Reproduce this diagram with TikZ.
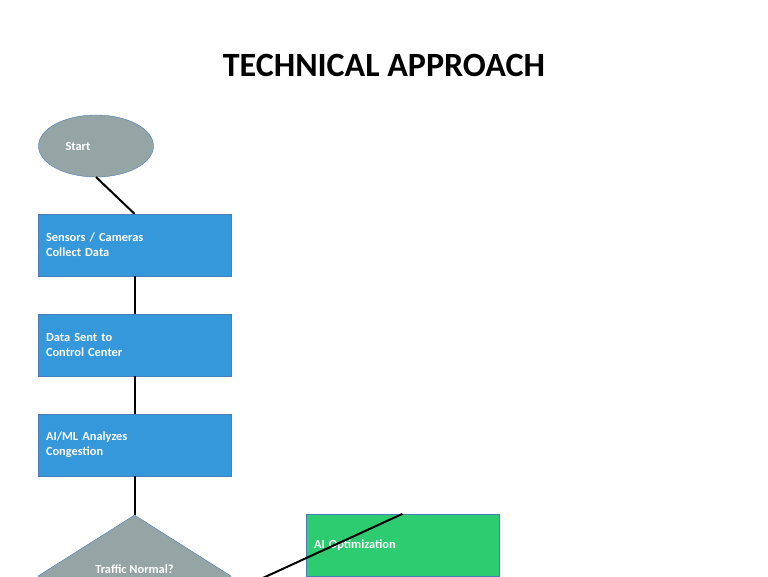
\documentclass[tikz,border=0pt]{standalone}
\usepackage{fontspec}
\setmainfont{Carlito}
\usetikzlibrary{shapes.geometric}
\definecolor{gr}{HTML}{95A5A6}
\definecolor{bl}{HTML}{3498DB}
\definecolor{gn}{HTML}{2ECC71}
\definecolor{ed}{HTML}{4A7EBB}
\begin{document}
\begin{tikzpicture}[x=1pt,y=-1pt,
 txt/.style={text=white,font=\bfseries\fontsize{12.4}{15}\selectfont},
 box/.style={draw=ed,fill=bl,minimum width=193pt,minimum height=62pt,text width=177pt,align=left,txt,inner sep=0pt},
 con/.style={line width=2pt,black}]
\clip (0,0) rectangle (768,576);
\useasboundingbox (0,0) rectangle (768,576);
\node[font=\bfseries\fontsize{34}{38}\selectfont] (t) at (384,65) {TECHNICAL APPROACH};
\node[ellipse,draw=ed,fill=gr,minimum width=115pt,minimum height=62pt,inner sep=0pt] (s) at (96,146) {};
\node[txt,anchor=west] (st) at (62,146) {Start};
\node[box] (b1) at (134.5,245) {Sensors / Cameras\\Collect Data};
\node[box] (b2) at (134.5,345) {Data Sent to\\Control Center};
\node[box] (b3) at (134.5,445) {AI/ML Analyzes\\Congestion};
\node[diamond,draw=ed,fill=gr,minimum width=193pt,minimum height=122pt,inner sep=0pt,aspect=1.58] (d) at (134.5,576) {};
\node[txt] (dt) at (134.5,569) {Traffic Normal?};
\node[box,fill=gn] (g) at (402.5,545) {AI Optimization};
\coordinate (sb) at (96,177);
\coordinate (ds) at (134.5,637);
\draw[con] (sb) -- (b1.north);
\draw[con] (b1) -- (b2);
\draw[con] (b2) -- (b3);
\draw[con] (b3.south) -- (d.north);
\draw[con] (g.north) -- (ds);
\end{tikzpicture}
\end{document}
